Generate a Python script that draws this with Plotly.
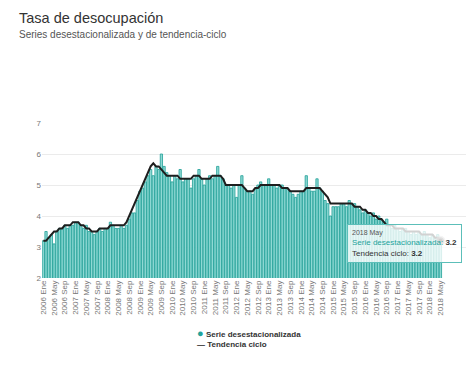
import plotly.graph_objects as go

years = list(range(2006, 2019))
month_names = ["Ene", "Feb", "Mar", "Abr", "May", "Jun", "Jul", "Ago", "Sep", "Oct", "Nov", "Dic"]
categories = [f"{y} {m}" for y in years for m in month_names][:149]  # 2006 Ene .. 2018 May

serie_desestacionalizada = [
    # 2006
    3.2, 3.5, 3.3, 3.4, 3.1, 3.5, 3.6, 3.6, 3.7, 3.6, 3.7, 3.7,
    # 2007
    3.8, 3.8, 3.7, 3.6, 3.7, 3.5, 3.5, 3.4, 3.5, 3.6, 3.5, 3.6,
    # 2008
    3.6, 3.8, 3.7, 3.6, 3.6, 3.7, 3.6, 3.7, 3.9, 4.1, 4.1, 4.5,
    # 2009
    4.8, 4.9, 5.1, 5.3, 5.5, 5.3, 5.6, 5.5, 6.0, 5.6, 5.4, 5.3,
    # 2010
    5.1, 5.3, 5.2, 5.5, 5.1, 5.2, 5.2, 4.9, 5.2, 5.3, 5.5, 5.2,
    # 2011
    5.0, 5.2, 5.3, 5.2, 5.3, 5.6, 5.3, 5.2, 5.0, 5.0, 4.9, 5.0,
    # 2012
    4.6, 5.0, 5.3, 4.9, 4.8, 4.8, 4.7, 4.9, 5.0, 5.1, 5.0, 5.0,
    # 2013
    5.2, 5.0, 5.0, 4.9, 5.0, 5.0, 4.9, 4.9, 4.8, 4.7, 4.6, 4.7,
    # 2014
    4.8, 4.8, 5.3, 4.9, 4.8, 4.8, 5.2, 4.9, 4.8, 4.5, 4.4, 4.0,
    # 2015
    4.3, 4.3, 4.3, 4.4, 4.4, 4.3, 4.5, 4.4, 4.4, 4.3, 4.2, 4.1,
    # 2016
    4.2, 4.1, 4.0, 4.1, 3.9, 4.0, 3.9, 3.8, 3.9, 3.7, 3.6, 3.7,
    # 2017
    3.6, 3.5, 3.6, 3.6, 3.5, 3.4, 3.5, 3.4, 3.5, 3.4, 3.5, 3.4,
    # 2018
    3.3, 3.4, 3.3, 3.4, 3.2,
]

tendencia_ciclo = [
    # 2006
    3.2, 3.2, 3.3, 3.4, 3.5, 3.5, 3.6, 3.6, 3.7, 3.7, 3.7, 3.8,
    # 2007
    3.8, 3.8, 3.7, 3.7, 3.6, 3.6, 3.5, 3.5, 3.5, 3.6, 3.6, 3.6,
    # 2008
    3.6, 3.7, 3.7, 3.7, 3.7, 3.7, 3.7, 3.8, 4.0, 4.2, 4.4, 4.6,
    # 2009
    4.8, 5.0, 5.2, 5.4, 5.6, 5.7, 5.6, 5.6, 5.5, 5.4, 5.3, 5.3,
    # 2010
    5.3, 5.3, 5.3, 5.2, 5.2, 5.2, 5.2, 5.2, 5.3, 5.3, 5.3, 5.2,
    # 2011
    5.2, 5.2, 5.2, 5.3, 5.3, 5.3, 5.3, 5.2, 5.0, 5.0, 5.0, 5.0,
    # 2012
    5.0, 5.0, 5.0, 4.9, 4.8, 4.8, 4.8, 4.9, 4.9, 5.0, 5.0, 5.0,
    # 2013
    5.0, 5.0, 5.0, 5.0, 5.0, 4.9, 4.9, 4.9, 4.8, 4.8, 4.8, 4.8,
    # 2014
    4.8, 4.8, 4.9, 4.9, 4.9, 4.9, 4.9, 4.9, 4.8, 4.7, 4.6, 4.4,
    # 2015
    4.4, 4.4, 4.4, 4.4, 4.4, 4.4, 4.4, 4.4, 4.3, 4.3, 4.3, 4.2,
    # 2016
    4.2, 4.1, 4.1, 4.0, 4.0, 3.9, 3.9, 3.8, 3.7, 3.7, 3.7, 3.6,
    # 2017
    3.6, 3.6, 3.6, 3.5, 3.5, 3.5, 3.5, 3.5, 3.5, 3.4, 3.4, 3.4,
    # 2018
    3.4, 3.4, 3.3, 3.3, 3.2,
]

tick_labels = categories[::4]
series_names = ["Serie desestacionalizada", "Tendencia ciclo"]

TEAL = "#22a39b"
FONT = "Liberation Sans, Arial, sans-serif"

L, R, T, B = 42, 8, 123, 102
PW, PH = 474 - L - R, 380 - T - B


def px_x(x):
    return (x - L) / PW


def px_y(y):
    return (380 - B - y) / PH


fig = go.Figure()

fig.add_trace(go.Bar(
    x=categories, y=serie_desestacionalizada,
    marker=dict(color="#8fd9d4", line=dict(color="#1f9f97", width=0.8)),
    name=series_names[0],
))
fig.add_trace(go.Scatter(
    x=categories, y=tendencia_ciclo, mode="lines",
    line=dict(color="#1e1e1e", width=2),
    name=series_names[1],
))
# hover highlight on the last point
fig.add_trace(go.Scatter(
    x=categories[-1:], y=tendencia_ciclo[-1:], mode="markers",
    marker=dict(color="#222222", size=7, line=dict(color="rgba(150,150,150,0.55)", width=3)),
    name="hover",
))

last_label = categories[-1]
tooltip_text = (
    f"<span style='font-size:7px;color:#555'>{last_label}</span><br>"
    f"<span style='color:{TEAL}'>{series_names[0]}:</span> <b>{serie_desestacionalizada[-1]:.1f}</b><br>"
    f"<span style='color:#333'>{series_names[1]}:</span> <b>{tendencia_ciclo[-1]:.1f}</b>"
)

legend_text = (
    f"<span style='color:{TEAL};font-size:11px'>●</span> {series_names[0]}<br>"
    f"<span style='color:#1e1e1e'>—</span> {series_names[1]}"
)

fig.update_layout(
    width=474, height=380, autosize=False,
    paper_bgcolor="white", plot_bgcolor="white",
    margin=dict(l=L, r=R, t=T, b=B, pad=0, autoexpand=False),
    bargap=0.15,
    showlegend=False,
    hovermode=False,
    font=dict(family=FONT, color="#333"),
    xaxis=dict(
        type="category", automargin=False,
        tickmode="array", tickvals=tick_labels, ticktext=tick_labels,
        tickangle=-90, tickfont=dict(size=8, color="#777"),
        showgrid=False, showline=False, ticks="",
    ),
    yaxis=dict(
        range=[2, 7], dtick=1, automargin=False,
        tickfont=dict(size=8, color="#777"),
        showgrid=True, gridcolor="#ebebeb", gridwidth=1,
        zeroline=False, showline=False, ticks="",
    ),
    annotations=[
        dict(text="Tasa de desocupación", xref="paper", yref="paper",
             x=px_x(17), y=px_y(18),
             xanchor="left", yanchor="middle", showarrow=False,
             font=dict(size=14.5, color="#333", family=FONT)),
        dict(text="Series desestacionalizada y de tendencia-ciclo", xref="paper", yref="paper",
             x=px_x(17), y=px_y(34),
             xanchor="left", yanchor="middle", showarrow=False,
             font=dict(size=10, color="#555", family=FONT)),
        dict(text=legend_text, xref="paper", yref="paper",
             x=px_x(195), y=px_y(325),
             xanchor="left", yanchor="top", align="left", showarrow=False,
             font=dict(size=8, color="#333", family=FONT, weight=700)),
        dict(text=tooltip_text, xref="paper", yref="paper",
             x=px_x(347), y=px_y(224),
             xanchor="left", yanchor="top", align="left", showarrow=False,
             bgcolor="rgba(255,255,255,0.8)", bordercolor="#5cbfb9", borderwidth=1, borderpad=4,
             font=dict(size=8, color="#333", family=FONT)),
    ],
)

fig.write_html(
    "out.html",
    config={"displayModeBar": False, "staticPlot": True},
    post_script="document.body.style.margin='0';document.body.style.overflow='hidden';",
)
